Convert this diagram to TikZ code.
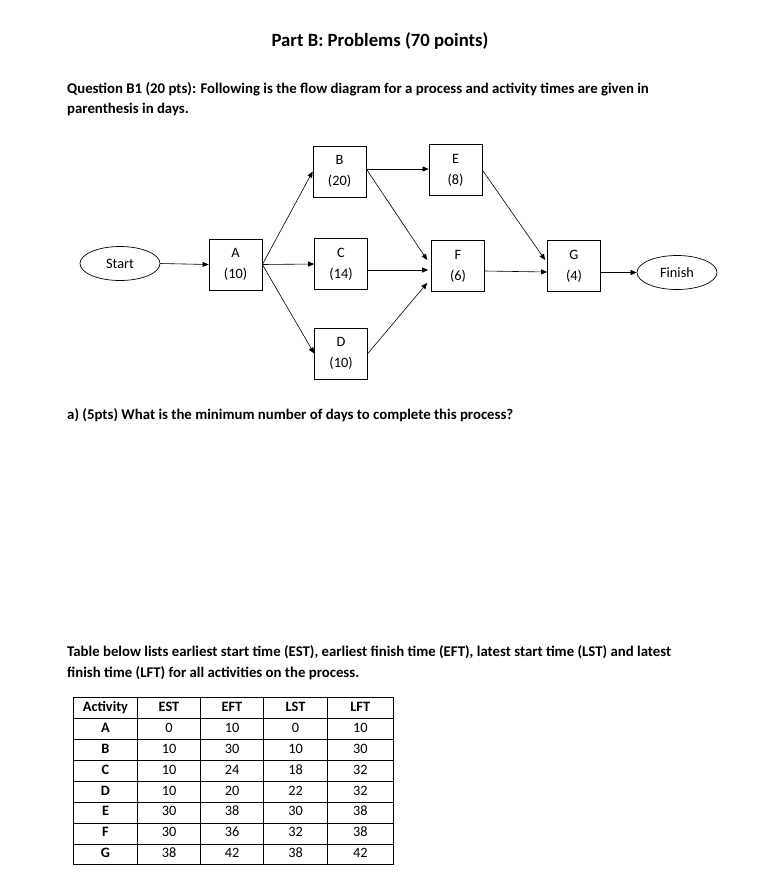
\documentclass[tikz,border=0pt]{standalone}
\usepackage{fontspec}
\setmainfont{Carlito}
\usetikzlibrary{matrix}
\usetikzlibrary{calc, shapes, arrows.meta}

\begin{document}
\begin{tikzpicture}[x=1pt,y=-1pt,
    task/.style={draw, line width=0.7pt, minimum width=53pt, minimum height=51pt,
      align=center, font=\fontsize{14.3}{21}\selectfont},
    term/.style={draw, ellipse, line width=0.7pt, minimum width=80pt, minimum height=34pt,
      font=\fontsize{14.3}{16}\selectfont},
    link/.style={-{Triangle[length=6pt,width=5pt]}, line width=0.6pt},
    txt/.style={anchor=base west, inner sep=0pt, font=\bfseries\fontsize{14.8}{17}\selectfont}]
  \useasboundingbox[fill=white] (0,0) rectangle (773,895);

  % heading and question text
  \node[txt, anchor=base, font=\bfseries\fontsize{18.7}{21}\selectfont] (title) at (380,46)
    {Part B: Problems (70 points)};
  \node[txt] (q1) at (67,93) {Question B1 (20 pts): Following is the flow diagram for a process and activity times are given in};
  \node[txt] (q2) at (67,113) {parenthesis in days.};

  % the flow diagram
  \node[term]  (start)  at (120,263.5) {Start};
  \node[task]  (A)      at (235.5,264.5) {A\\(10)};
  \node[task]  (B)      at (339.5,171.5) {B\\(20)};
  \node[task]  (C)      at (341,264) {C\\(14)};
  \node[task]  (D)      at (341,353.5) {D\\(10)};
  \node[task]  (E)      at (455.5,170) {E\\(8)};
  \node[task]  (F)      at (458,266) {F\\(6)};
  \node[task]  (G)      at (574,266) {G\\(4)};
  \node[term]  (finish) at (677,272.5) {Finish};

  \draw[link] (start.east) -- (A.west);
  \draw[link] (A.east) -- (B.west);
  \draw[link] (A.east) -- (C.west);
  \draw[link] (A.east) -- (D.west);
  \draw[link] ([yshift=2.5pt]B.east) -- ([yshift=1pt]E.west);
  \draw[link] ([yshift=2.5pt]B.east) -- ([shift={(-4pt,6pt)}]F.west);
  \draw[link] ([yshift=-6pt]C.east) -- ([shift={(-3pt,-4pt)}]F.west);
  \draw[link] (D.east) -- ([shift={(-4pt,-17pt)}]F.west);
  \draw[link] (E.east) -- ([shift={(-2pt,6pt)}]G.west);
  \draw[link] ([yshift=-5pt]F.east) -- ([yshift=-6pt]G.west);
  \draw[link] (G.east |- finish.west) -- (finish.west);

  \node[txt] (qa) at (67,419) {a) (5pts) What is the minimum number of days to complete this process?};
  \node[txt] (t1) at (67,656) {Table below lists earliest start time (EST), earliest finish time (EFT), latest start time (LST) and latest};
  \node[txt] (t2) at (67,677) {finish time (LFT) for all activities on the process.};

  % the table of times
     \matrix (tab) [%
       matrix of nodes, anchor=north west, inner sep=0pt,
       row sep=-0.6pt, column sep=-0.6pt,
       nodes={draw, line width=0.6pt, outer sep=0pt, minimum height=20.9pt, inner sep=0pt,
         text height=10pt, text depth=3pt, font=\fontsize{14.3}{16}\selectfont},
       column 1/.style={nodes={minimum width=64pt, font=\bfseries\fontsize{14.3}{16}\selectfont}},
       column 2/.style={nodes={minimum width=63pt}},
       column 3/.style={nodes={minimum width=63pt}},
       column 4/.style={nodes={minimum width=64pt}},
       column 5/.style={nodes={minimum width=65.5pt}},
       row 1/.style={nodes={font=\bfseries\fontsize{14.3}{16}\selectfont}}
     ] at (73,697)
      {%
        Activity & EST & EFT & LST & LFT \\
        A & 0  & 10 & 0  & 10 \\
        B & 10 & 30 & 10 & 30 \\
        C & 10 & 24 & 18 & 32 \\
        D & 10 & 20 & 22 & 32 \\
        E & 30 & 38 & 30 & 38 \\
        F & 30 & 36 & 32 & 38 \\
        G & 38 & 42 & 38 & 42 \\
      };
\end{tikzpicture}
\end{document}
